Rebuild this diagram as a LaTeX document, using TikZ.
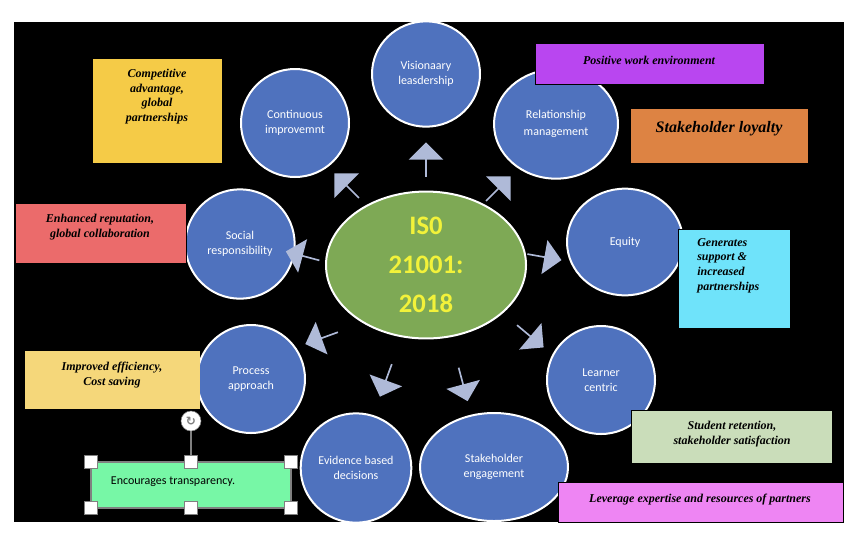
\documentclass[tikz,border=0pt]{standalone}
\usepackage{fontspec}
\setmainfont{Carlito}
\newfontfamily\notefont{Liberation Serif}
\newfontfamily\symfont{DejaVu Sans}
\usetikzlibrary{shapes.arrows,shapes.geometric}
\definecolor{circblue}{HTML}{4F72BE}
\definecolor{midgreen}{HTML}{7EA955}
\definecolor{arrgray}{HTML}{AFBAD8}
\definecolor{isoyellow}{HTML}{F2F23A}
\tikzset{
  goal/.style={ellipse, draw=white, line width=1.5, fill=circblue, text=white, font=\small, align=center, inner sep=0pt},
  blockarr/.style={single arrow, fill=arrgray, minimum height=26pt, minimum width=26pt, single arrow head extend=4pt, inner sep=0pt},
  note/.style={font=\notefont\itshape\bfseries\small, align=center, inner sep=0pt},
  handle/.style={draw=gray, fill=white, minimum size=10pt, inner sep=0pt}
}
\begin{document}
\begin{tikzpicture}[x=0.75pt,y=0.75pt,yscale=-1,xscale=1]
\useasboundingbox (0,0) rectangle (866,544);
\fill [black] (14,22) rectangle (844,522);

% circles
\node [ellipse, draw=white, line width=1.5, fill=midgreen, minimum width=150pt, minimum height=105pt, text=isoyellow, font=\bfseries\fontsize{20}{29}\selectfont, align=center] (iso) at (426,265) {IS0\\21001:\\2018};
\node [goal, minimum width=81pt, minimum height=79pt] (vis) at (426,74) {Visionaary\\leasdership};
\node [goal, minimum width=93pt, minimum height=82pt] (rel) at (556,124) {Relationship\\[2pt]management};
\node [goal, minimum width=81pt, minimum height=81pt] (cont) at (295,123) {Continuous\\improvemnt};
\node [goal, minimum width=82pt, minimum height=82pt] (soc) at (240,244) {Social\\responsibility};
\node [goal, minimum width=87pt, minimum height=80pt] (equ) at (625,242) {Equity};
\node [goal, minimum width=81pt, minimum height=81pt] (proc) at (251,379) {Process\\approach};
\node [goal, minimum width=81pt, minimum height=81pt] (learn) at (601,380) {Learner\\centric};
\node [goal, minimum width=83pt, minimum height=82pt] (evid) at (356,468) {Evidence based\\decisions};
\node [goal, minimum width=111pt, minimum height=81pt] (stake) at (494,467) {Stakeholder\\engagement};

% arrows
\node [blockarr, rotate=90] (a1) at (426,160) {};
\node [blockarr, rotate=135] (a2) at (347,186) {};
\node [blockarr, rotate=45] (a3) at (498,189) {};
\node [blockarr, rotate=165] (a4) at (303,256) {};
\node [blockarr, rotate=-10] (a5) at (544,257) {};
\node [blockarr, rotate=200] (a6) at (322,338) {};
\node [blockarr, rotate=250] (a7) at (386,380) {};
\node [blockarr, rotate=285] (a8) at (463,384) {};
\node [blockarr, rotate=-40] (a9) at (530,336) {};

% notes
\fill [fill={rgb,255:red,245;green,203;blue,71}] (93,59) rectangle (222,163);
\node [note, anchor=north] (n1) at (157,69) {Competitive\\advantage,\\global\\partnerships};
\draw [fill={rgb,255:red,235;green,107;blue,107}] (15,203) rectangle (186,263);
\node [note] (n2) at (100,227) {Enhanced reputation,\\global collaboration};
\fill [fill={rgb,255:red,245;green,215;blue,122}] (25,351) rectangle (200,409);
\node [note] (n3) at (112,375) {Improved efficiency,\\Cost saving};
\draw [fill={rgb,255:red,185;green,70;blue,240}] (535,43) rectangle (764,84);
\node [note] (n4) at (649,60) {Positive work environment};
\fill [fill={rgb,255:red,221;green,131;blue,67}] (631,109) rectangle (808,163);
\node [note, font=\notefont\itshape\bfseries\large] (n5) at (719,129) {Stakeholder loyalty};
\draw [fill={rgb,255:red,111;green,227;blue,250}] (678,229) rectangle (790,328);
\node [note, anchor=north west, align=left] (n6) at (697,238) {Generates\\support \&\\increased\\partnerships};
\draw [fill={rgb,255:red,202;green,221;blue,186}] (631,410) rectangle (832,463);
\node [note] (n7) at (732,434) {Student retention,\\stakeholder satisfaction};
\draw [fill={rgb,255:red,238;green,133;blue,243}] (558,482) rectangle (843,522);
\node [note] (n8) at (700,500) {Leverage expertise and resources of partners};

% selected text box
\draw [draw=gray, line width=1.5, fill={rgb,255:red,119;green,247;blue,166}] (91,462) rectangle (291,508);
\node [font=\small] (n9) at (173,482) {Encourages transparency.};
\node [circle, draw=gray, fill=white, minimum size=15pt, inner sep=0pt, font=\symfont\bfseries\small, text=gray] (rot) at (191,421) {↻};
\node [handle] (h1) at (91,462) {};
\node [handle] (h2) at (191,462) {};
\node [handle] (h3) at (291,462) {};
\node [handle] (h4) at (91,508) {};
\node [handle] (h5) at (191,508) {};
\node [handle] (h6) at (291,508) {};
\draw [gray, line width=1] (rot) -- (h2);
\end{tikzpicture}
\end{document}
